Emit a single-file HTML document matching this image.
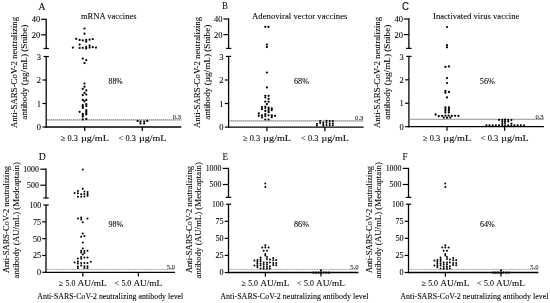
<!DOCTYPE html>
<html lang="en"><head><meta charset="utf-8"><title>Neutralizing antibody figure</title>
<style>
html,body{margin:0;padding:0;background:#fff;}
svg{display:block;font-family:"Liberation Serif", serif;}
</style></head>
<body>
<svg width="550" height="303" viewBox="0 0 550 303" font-family='"Liberation Serif", serif' fill="#000" stroke="#000" stroke-width="0.08">
<rect width="550" height="303" fill="#fff" stroke="none"/>
<line x1="46.20" y1="18.66" x2="46.20" y2="48.50" stroke="#000" stroke-width="1.28"/>
<line x1="43.50" y1="48.50" x2="48.90" y2="48.50" stroke="#000" stroke-width="1.2"/>
<line x1="46.20" y1="56.50" x2="46.20" y2="127.64" stroke="#000" stroke-width="1.28"/>
<line x1="43.50" y1="56.50" x2="48.90" y2="56.50" stroke="#000" stroke-width="1.2"/>
<line x1="45.56" y1="127.00" x2="181.30" y2="127.00" stroke="#000" stroke-width="1.28"/>
<line x1="41.10" y1="19.30" x2="46.20" y2="19.30" stroke="#000" stroke-width="1.2"/>
<line x1="41.10" y1="34.80" x2="46.20" y2="34.80" stroke="#000" stroke-width="1.2"/>
<line x1="42.40" y1="80.00" x2="46.20" y2="80.00" stroke="#000" stroke-width="1.2"/>
<line x1="42.40" y1="103.50" x2="46.20" y2="103.50" stroke="#000" stroke-width="1.2"/>
<line x1="42.40" y1="127.00" x2="46.20" y2="127.00" stroke="#000" stroke-width="1.2"/>
<line x1="84.70" y1="127.00" x2="84.70" y2="131.10" stroke="#000" stroke-width="1.25"/>
<line x1="142.30" y1="127.00" x2="142.30" y2="131.10" stroke="#000" stroke-width="1.25"/>
<line x1="46.90" y1="119.80" x2="181.30" y2="119.80" stroke="#d2d2d2" stroke-width="1.15"/>
<line x1="46.90" y1="119.80" x2="181.30" y2="119.80" stroke="#838383" stroke-width="1.15" stroke-dasharray="1 1"/>
<text x="40.20" y="22.40" font-size="8.5" text-anchor="end" textLength="8.50" lengthAdjust="spacingAndGlyphs">40</text>
<text x="40.20" y="37.90" font-size="8.5" text-anchor="end" textLength="8.50" lengthAdjust="spacingAndGlyphs">20</text>
<text x="41.10" y="59.60" font-size="8.5" text-anchor="end" textLength="4.25" lengthAdjust="spacingAndGlyphs">3</text>
<text x="41.10" y="83.10" font-size="8.5" text-anchor="end" textLength="4.25" lengthAdjust="spacingAndGlyphs">2</text>
<text x="41.10" y="106.60" font-size="8.5" text-anchor="end" textLength="4.25" lengthAdjust="spacingAndGlyphs">1</text>
<text x="41.10" y="130.10" font-size="8.5" text-anchor="end" textLength="4.25" lengthAdjust="spacingAndGlyphs">0</text>
<text x="16.60" y="128.10" font-size="9.0" textLength="111.30" lengthAdjust="spacingAndGlyphs" transform="rotate(-90 16.60 128.10)">Anti-SARS-CoV-2 neutralizing</text>
<text x="26.60" y="119.80" font-size="9.0" textLength="95.10" lengthAdjust="spacingAndGlyphs" transform="rotate(-90 26.60 119.80)">antibody (µg/mL) (Snibe)</text>
<text y="141.00" font-size="8.6"><tspan x="61.00" textLength="4.50" lengthAdjust="spacingAndGlyphs">≥</tspan> <tspan x="67.50" textLength="10.40" lengthAdjust="spacingAndGlyphs">0.3</tspan> <tspan x="81.00" textLength="27.90" lengthAdjust="spacingAndGlyphs">µg/mL</tspan></text>
<text y="141.00" font-size="8.6"><tspan x="118.40" textLength="4.70" lengthAdjust="spacingAndGlyphs">&lt;</tspan> <tspan x="125.50" textLength="10.40" lengthAdjust="spacingAndGlyphs">0.3</tspan> <tspan x="138.90" textLength="27.50" lengthAdjust="spacingAndGlyphs">µg/mL</tspan></text>
<text x="181.10" y="119.30" font-size="6.9" text-anchor="end" textLength="8.30" lengthAdjust="spacingAndGlyphs" fill="#222">0.3</text>
<text x="80.90" y="18.80" font-size="8.7" textLength="55.70" lengthAdjust="spacingAndGlyphs">mRNA vaccines</text>
<text x="108.60" y="83.60" font-size="8.2" textLength="14.10" lengthAdjust="spacingAndGlyphs">88%</text>
<text x="38.40" y="9.65" font-size="9.8" textLength="6.90" lengthAdjust="spacingAndGlyphs">A</text>
<path d="M83.38 28.50a1.12 1.12 0 1 0 2.24 0a1.12 1.12 0 1 0 -2.24 0zM83.38 33.70a1.12 1.12 0 1 0 2.24 0a1.12 1.12 0 1 0 -2.24 0zM75.08 38.80a1.12 1.12 0 1 0 2.24 0a1.12 1.12 0 1 0 -2.24 0zM78.48 39.90a1.12 1.12 0 1 0 2.24 0a1.12 1.12 0 1 0 -2.24 0zM81.68 40.40a1.12 1.12 0 1 0 2.24 0a1.12 1.12 0 1 0 -2.24 0zM85.08 39.90a1.12 1.12 0 1 0 2.24 0a1.12 1.12 0 1 0 -2.24 0zM85.08 41.70a1.12 1.12 0 1 0 2.24 0a1.12 1.12 0 1 0 -2.24 0zM88.48 39.70a1.12 1.12 0 1 0 2.24 0a1.12 1.12 0 1 0 -2.24 0zM91.68 39.00a1.12 1.12 0 1 0 2.24 0a1.12 1.12 0 1 0 -2.24 0zM78.58 44.60a1.12 1.12 0 1 0 2.24 0a1.12 1.12 0 1 0 -2.24 0zM71.78 47.60a1.12 1.12 0 1 0 2.24 0a1.12 1.12 0 1 0 -2.24 0zM78.58 48.00a1.12 1.12 0 1 0 2.24 0a1.12 1.12 0 1 0 -2.24 0zM81.68 47.80a1.12 1.12 0 1 0 2.24 0a1.12 1.12 0 1 0 -2.24 0zM85.08 46.90a1.12 1.12 0 1 0 2.24 0a1.12 1.12 0 1 0 -2.24 0zM85.08 48.50a1.12 1.12 0 1 0 2.24 0a1.12 1.12 0 1 0 -2.24 0zM88.48 45.50a1.12 1.12 0 1 0 2.24 0a1.12 1.12 0 1 0 -2.24 0zM88.48 47.60a1.12 1.12 0 1 0 2.24 0a1.12 1.12 0 1 0 -2.24 0zM91.68 47.10a1.12 1.12 0 1 0 2.24 0a1.12 1.12 0 1 0 -2.24 0zM94.88 47.60a1.12 1.12 0 1 0 2.24 0a1.12 1.12 0 1 0 -2.24 0zM81.68 58.60a1.12 1.12 0 1 0 2.24 0a1.12 1.12 0 1 0 -2.24 0zM85.08 60.20a1.12 1.12 0 1 0 2.24 0a1.12 1.12 0 1 0 -2.24 0zM83.38 63.10a1.12 1.12 0 1 0 2.24 0a1.12 1.12 0 1 0 -2.24 0zM83.38 83.50a1.12 1.12 0 1 0 2.24 0a1.12 1.12 0 1 0 -2.24 0zM83.38 86.70a1.12 1.12 0 1 0 2.24 0a1.12 1.12 0 1 0 -2.24 0zM81.68 88.80a1.12 1.12 0 1 0 2.24 0a1.12 1.12 0 1 0 -2.24 0zM85.18 90.40a1.12 1.12 0 1 0 2.24 0a1.12 1.12 0 1 0 -2.24 0zM83.38 92.90a1.12 1.12 0 1 0 2.24 0a1.12 1.12 0 1 0 -2.24 0zM85.18 94.60a1.12 1.12 0 1 0 2.24 0a1.12 1.12 0 1 0 -2.24 0zM81.68 95.20a1.12 1.12 0 1 0 2.24 0a1.12 1.12 0 1 0 -2.24 0zM81.68 99.90a1.12 1.12 0 1 0 2.24 0a1.12 1.12 0 1 0 -2.24 0zM85.18 99.90a1.12 1.12 0 1 0 2.24 0a1.12 1.12 0 1 0 -2.24 0zM83.38 101.40a1.12 1.12 0 1 0 2.24 0a1.12 1.12 0 1 0 -2.24 0zM85.18 104.20a1.12 1.12 0 1 0 2.24 0a1.12 1.12 0 1 0 -2.24 0zM81.68 105.10a1.12 1.12 0 1 0 2.24 0a1.12 1.12 0 1 0 -2.24 0zM81.68 106.40a1.12 1.12 0 1 0 2.24 0a1.12 1.12 0 1 0 -2.24 0zM85.18 106.10a1.12 1.12 0 1 0 2.24 0a1.12 1.12 0 1 0 -2.24 0zM81.68 107.90a1.12 1.12 0 1 0 2.24 0a1.12 1.12 0 1 0 -2.24 0zM85.18 110.20a1.12 1.12 0 1 0 2.24 0a1.12 1.12 0 1 0 -2.24 0zM85.18 111.60a1.12 1.12 0 1 0 2.24 0a1.12 1.12 0 1 0 -2.24 0zM85.18 112.90a1.12 1.12 0 1 0 2.24 0a1.12 1.12 0 1 0 -2.24 0zM85.18 114.30a1.12 1.12 0 1 0 2.24 0a1.12 1.12 0 1 0 -2.24 0zM78.48 111.80a1.12 1.12 0 1 0 2.24 0a1.12 1.12 0 1 0 -2.24 0zM81.68 113.90a1.12 1.12 0 1 0 2.24 0a1.12 1.12 0 1 0 -2.24 0zM81.68 115.20a1.12 1.12 0 1 0 2.24 0a1.12 1.12 0 1 0 -2.24 0zM81.68 116.60a1.12 1.12 0 1 0 2.24 0a1.12 1.12 0 1 0 -2.24 0zM81.68 119.40a1.12 1.12 0 1 0 2.24 0a1.12 1.12 0 1 0 -2.24 0zM85.18 118.90a1.12 1.12 0 1 0 2.24 0a1.12 1.12 0 1 0 -2.24 0z" fill="#000" stroke="none"/>
<path d="M136.48 120.90a1.12 1.12 0 1 0 2.24 0a1.12 1.12 0 1 0 -2.24 0zM139.38 121.50a1.12 1.12 0 1 0 2.24 0a1.12 1.12 0 1 0 -2.24 0zM139.38 123.50a1.12 1.12 0 1 0 2.24 0a1.12 1.12 0 1 0 -2.24 0zM143.08 121.50a1.12 1.12 0 1 0 2.24 0a1.12 1.12 0 1 0 -2.24 0zM143.08 123.50a1.12 1.12 0 1 0 2.24 0a1.12 1.12 0 1 0 -2.24 0zM146.18 120.90a1.12 1.12 0 1 0 2.24 0a1.12 1.12 0 1 0 -2.24 0z" fill="#000" stroke="none"/>
<line x1="228.60" y1="18.36" x2="228.60" y2="48.40" stroke="#000" stroke-width="1.28"/>
<line x1="225.90" y1="48.40" x2="231.30" y2="48.40" stroke="#000" stroke-width="1.2"/>
<line x1="228.60" y1="56.40" x2="228.60" y2="127.74" stroke="#000" stroke-width="1.28"/>
<line x1="225.90" y1="56.40" x2="231.30" y2="56.40" stroke="#000" stroke-width="1.2"/>
<line x1="227.96" y1="127.10" x2="363.60" y2="127.10" stroke="#000" stroke-width="1.28"/>
<line x1="223.50" y1="19.00" x2="228.60" y2="19.00" stroke="#000" stroke-width="1.2"/>
<line x1="223.50" y1="34.60" x2="228.60" y2="34.60" stroke="#000" stroke-width="1.2"/>
<line x1="224.80" y1="79.97" x2="228.60" y2="79.97" stroke="#000" stroke-width="1.2"/>
<line x1="224.80" y1="103.53" x2="228.60" y2="103.53" stroke="#000" stroke-width="1.2"/>
<line x1="224.80" y1="127.10" x2="228.60" y2="127.10" stroke="#000" stroke-width="1.2"/>
<line x1="266.90" y1="127.10" x2="266.90" y2="131.20" stroke="#000" stroke-width="1.25"/>
<line x1="324.90" y1="127.10" x2="324.90" y2="131.20" stroke="#000" stroke-width="1.25"/>
<line x1="229.30" y1="120.80" x2="363.60" y2="120.80" stroke="#d2d2d2" stroke-width="1.15"/>
<line x1="229.30" y1="120.80" x2="363.60" y2="120.80" stroke="#838383" stroke-width="1.15" stroke-dasharray="1 1"/>
<text x="222.60" y="22.10" font-size="8.5" text-anchor="end" textLength="8.50" lengthAdjust="spacingAndGlyphs">40</text>
<text x="222.60" y="37.70" font-size="8.5" text-anchor="end" textLength="8.50" lengthAdjust="spacingAndGlyphs">20</text>
<text x="223.50" y="59.50" font-size="8.5" text-anchor="end" textLength="4.25" lengthAdjust="spacingAndGlyphs">3</text>
<text x="223.50" y="83.07" font-size="8.5" text-anchor="end" textLength="4.25" lengthAdjust="spacingAndGlyphs">2</text>
<text x="223.50" y="106.63" font-size="8.5" text-anchor="end" textLength="4.25" lengthAdjust="spacingAndGlyphs">1</text>
<text x="223.50" y="130.20" font-size="8.5" text-anchor="end" textLength="4.25" lengthAdjust="spacingAndGlyphs">0</text>
<text x="199.60" y="128.10" font-size="9.0" textLength="111.30" lengthAdjust="spacingAndGlyphs" transform="rotate(-90 199.60 128.10)">Anti-SARS-CoV-2 neutralizing</text>
<text x="209.60" y="119.80" font-size="9.0" textLength="95.10" lengthAdjust="spacingAndGlyphs" transform="rotate(-90 209.60 119.80)">antibody (µg/mL) (Snibe)</text>
<text y="141.10" font-size="8.6"><tspan x="243.20" textLength="4.50" lengthAdjust="spacingAndGlyphs">≥</tspan> <tspan x="249.70" textLength="10.40" lengthAdjust="spacingAndGlyphs">0.3</tspan> <tspan x="263.20" textLength="27.90" lengthAdjust="spacingAndGlyphs">µg/mL</tspan></text>
<text y="141.10" font-size="8.6"><tspan x="301.00" textLength="4.70" lengthAdjust="spacingAndGlyphs">&lt;</tspan> <tspan x="308.10" textLength="10.40" lengthAdjust="spacingAndGlyphs">0.3</tspan> <tspan x="321.50" textLength="27.50" lengthAdjust="spacingAndGlyphs">µg/mL</tspan></text>
<text x="363.40" y="120.30" font-size="6.9" text-anchor="end" textLength="8.30" lengthAdjust="spacingAndGlyphs" fill="#222">0.3</text>
<text x="252.00" y="18.80" font-size="8.7" textLength="95.40" lengthAdjust="spacingAndGlyphs">Adenoviral vector vaccines</text>
<text x="294.00" y="83.60" font-size="8.2" textLength="15.00" lengthAdjust="spacingAndGlyphs">68%</text>
<text x="222.20" y="9.20" font-size="9.8" textLength="5.60" lengthAdjust="spacingAndGlyphs">B</text>
<path d="M264.18 26.80a1.12 1.12 0 1 0 2.24 0a1.12 1.12 0 1 0 -2.24 0zM267.38 26.80a1.12 1.12 0 1 0 2.24 0a1.12 1.12 0 1 0 -2.24 0zM265.78 44.60a1.12 1.12 0 1 0 2.24 0a1.12 1.12 0 1 0 -2.24 0zM265.78 47.10a1.12 1.12 0 1 0 2.24 0a1.12 1.12 0 1 0 -2.24 0zM265.78 72.50a1.12 1.12 0 1 0 2.24 0a1.12 1.12 0 1 0 -2.24 0zM265.78 87.40a1.12 1.12 0 1 0 2.24 0a1.12 1.12 0 1 0 -2.24 0zM264.18 95.80a1.12 1.12 0 1 0 2.24 0a1.12 1.12 0 1 0 -2.24 0zM264.18 97.40a1.12 1.12 0 1 0 2.24 0a1.12 1.12 0 1 0 -2.24 0zM267.48 95.80a1.12 1.12 0 1 0 2.24 0a1.12 1.12 0 1 0 -2.24 0zM267.48 98.80a1.12 1.12 0 1 0 2.24 0a1.12 1.12 0 1 0 -2.24 0zM264.18 101.70a1.12 1.12 0 1 0 2.24 0a1.12 1.12 0 1 0 -2.24 0zM267.48 101.70a1.12 1.12 0 1 0 2.24 0a1.12 1.12 0 1 0 -2.24 0zM265.78 104.10a1.12 1.12 0 1 0 2.24 0a1.12 1.12 0 1 0 -2.24 0zM264.18 106.50a1.12 1.12 0 1 0 2.24 0a1.12 1.12 0 1 0 -2.24 0zM260.88 107.00a1.12 1.12 0 1 0 2.24 0a1.12 1.12 0 1 0 -2.24 0zM260.88 109.20a1.12 1.12 0 1 0 2.24 0a1.12 1.12 0 1 0 -2.24 0zM267.48 107.70a1.12 1.12 0 1 0 2.24 0a1.12 1.12 0 1 0 -2.24 0zM267.48 109.30a1.12 1.12 0 1 0 2.24 0a1.12 1.12 0 1 0 -2.24 0zM267.48 110.90a1.12 1.12 0 1 0 2.24 0a1.12 1.12 0 1 0 -2.24 0zM267.48 112.20a1.12 1.12 0 1 0 2.24 0a1.12 1.12 0 1 0 -2.24 0zM270.68 108.30a1.12 1.12 0 1 0 2.24 0a1.12 1.12 0 1 0 -2.24 0zM270.68 110.10a1.12 1.12 0 1 0 2.24 0a1.12 1.12 0 1 0 -2.24 0zM264.18 108.00a1.12 1.12 0 1 0 2.24 0a1.12 1.12 0 1 0 -2.24 0zM264.18 110.90a1.12 1.12 0 1 0 2.24 0a1.12 1.12 0 1 0 -2.24 0zM257.68 113.40a1.12 1.12 0 1 0 2.24 0a1.12 1.12 0 1 0 -2.24 0zM257.68 115.80a1.12 1.12 0 1 0 2.24 0a1.12 1.12 0 1 0 -2.24 0zM260.88 115.30a1.12 1.12 0 1 0 2.24 0a1.12 1.12 0 1 0 -2.24 0zM260.88 117.40a1.12 1.12 0 1 0 2.24 0a1.12 1.12 0 1 0 -2.24 0zM264.18 114.20a1.12 1.12 0 1 0 2.24 0a1.12 1.12 0 1 0 -2.24 0zM264.18 116.10a1.12 1.12 0 1 0 2.24 0a1.12 1.12 0 1 0 -2.24 0zM267.48 115.30a1.12 1.12 0 1 0 2.24 0a1.12 1.12 0 1 0 -2.24 0zM270.68 115.30a1.12 1.12 0 1 0 2.24 0a1.12 1.12 0 1 0 -2.24 0zM270.68 117.20a1.12 1.12 0 1 0 2.24 0a1.12 1.12 0 1 0 -2.24 0zM273.98 115.80a1.12 1.12 0 1 0 2.24 0a1.12 1.12 0 1 0 -2.24 0zM264.18 119.50a1.12 1.12 0 1 0 2.24 0a1.12 1.12 0 1 0 -2.24 0zM267.48 119.50a1.12 1.12 0 1 0 2.24 0a1.12 1.12 0 1 0 -2.24 0z" fill="#000" stroke="none"/>
<path d="M315.90 123.70a1.0 1.0 0 1 0 2.0 0a1.0 1.0 0 1 0 -2.0 0zM315.90 125.40a1.0 1.0 0 1 0 2.0 0a1.0 1.0 0 1 0 -2.0 0zM319.10 121.10a1.0 1.0 0 1 0 2.0 0a1.0 1.0 0 1 0 -2.0 0zM319.10 123.00a1.0 1.0 0 1 0 2.0 0a1.0 1.0 0 1 0 -2.0 0zM322.30 122.40a1.0 1.0 0 1 0 2.0 0a1.0 1.0 0 1 0 -2.0 0zM322.30 124.30a1.0 1.0 0 1 0 2.0 0a1.0 1.0 0 1 0 -2.0 0zM322.30 125.80a1.0 1.0 0 1 0 2.0 0a1.0 1.0 0 1 0 -2.0 0zM325.50 120.80a1.0 1.0 0 1 0 2.0 0a1.0 1.0 0 1 0 -2.0 0zM325.50 122.80a1.0 1.0 0 1 0 2.0 0a1.0 1.0 0 1 0 -2.0 0zM325.50 124.90a1.0 1.0 0 1 0 2.0 0a1.0 1.0 0 1 0 -2.0 0zM328.70 121.10a1.0 1.0 0 1 0 2.0 0a1.0 1.0 0 1 0 -2.0 0zM328.70 123.30a1.0 1.0 0 1 0 2.0 0a1.0 1.0 0 1 0 -2.0 0zM328.70 125.30a1.0 1.0 0 1 0 2.0 0a1.0 1.0 0 1 0 -2.0 0zM331.90 121.10a1.0 1.0 0 1 0 2.0 0a1.0 1.0 0 1 0 -2.0 0zM331.90 123.30a1.0 1.0 0 1 0 2.0 0a1.0 1.0 0 1 0 -2.0 0zM331.90 125.30a1.0 1.0 0 1 0 2.0 0a1.0 1.0 0 1 0 -2.0 0z" fill="#000" stroke="none"/>
<line x1="408.90" y1="18.36" x2="408.90" y2="48.40" stroke="#000" stroke-width="1.28"/>
<line x1="406.20" y1="48.40" x2="411.60" y2="48.40" stroke="#000" stroke-width="1.2"/>
<line x1="408.90" y1="56.40" x2="408.90" y2="127.34" stroke="#000" stroke-width="1.28"/>
<line x1="406.20" y1="56.40" x2="411.60" y2="56.40" stroke="#000" stroke-width="1.2"/>
<line x1="408.26" y1="126.70" x2="543.90" y2="126.70" stroke="#000" stroke-width="1.28"/>
<line x1="403.80" y1="19.00" x2="408.90" y2="19.00" stroke="#000" stroke-width="1.2"/>
<line x1="403.80" y1="34.60" x2="408.90" y2="34.60" stroke="#000" stroke-width="1.2"/>
<line x1="405.10" y1="79.83" x2="408.90" y2="79.83" stroke="#000" stroke-width="1.2"/>
<line x1="405.10" y1="103.27" x2="408.90" y2="103.27" stroke="#000" stroke-width="1.2"/>
<line x1="405.10" y1="126.70" x2="408.90" y2="126.70" stroke="#000" stroke-width="1.2"/>
<line x1="447.00" y1="126.70" x2="447.00" y2="130.80" stroke="#000" stroke-width="1.25"/>
<line x1="504.60" y1="126.70" x2="504.60" y2="130.80" stroke="#000" stroke-width="1.25"/>
<line x1="409.60" y1="119.30" x2="543.90" y2="119.30" stroke="#d2d2d2" stroke-width="1.15"/>
<line x1="409.60" y1="119.30" x2="543.90" y2="119.30" stroke="#838383" stroke-width="1.15" stroke-dasharray="1 1"/>
<text x="402.90" y="22.10" font-size="8.5" text-anchor="end" textLength="8.50" lengthAdjust="spacingAndGlyphs">40</text>
<text x="402.90" y="37.70" font-size="8.5" text-anchor="end" textLength="8.50" lengthAdjust="spacingAndGlyphs">20</text>
<text x="403.80" y="59.50" font-size="8.5" text-anchor="end" textLength="4.25" lengthAdjust="spacingAndGlyphs">3</text>
<text x="403.80" y="82.93" font-size="8.5" text-anchor="end" textLength="4.25" lengthAdjust="spacingAndGlyphs">2</text>
<text x="403.80" y="106.37" font-size="8.5" text-anchor="end" textLength="4.25" lengthAdjust="spacingAndGlyphs">1</text>
<text x="403.80" y="129.80" font-size="8.5" text-anchor="end" textLength="4.25" lengthAdjust="spacingAndGlyphs">0</text>
<text x="379.70" y="128.10" font-size="9.0" textLength="111.30" lengthAdjust="spacingAndGlyphs" transform="rotate(-90 379.70 128.10)">Anti-SARS-CoV-2 neutralizing</text>
<text x="389.70" y="119.80" font-size="9.0" textLength="95.10" lengthAdjust="spacingAndGlyphs" transform="rotate(-90 389.70 119.80)">antibody (µg/mL) (Snibe)</text>
<text y="140.70" font-size="8.6"><tspan x="423.30" textLength="4.50" lengthAdjust="spacingAndGlyphs">≥</tspan> <tspan x="429.80" textLength="10.40" lengthAdjust="spacingAndGlyphs">0.3</tspan> <tspan x="443.30" textLength="27.90" lengthAdjust="spacingAndGlyphs">µg/mL</tspan></text>
<text y="140.70" font-size="8.6"><tspan x="480.70" textLength="4.70" lengthAdjust="spacingAndGlyphs">&lt;</tspan> <tspan x="487.80" textLength="10.40" lengthAdjust="spacingAndGlyphs">0.3</tspan> <tspan x="501.20" textLength="27.50" lengthAdjust="spacingAndGlyphs">µg/mL</tspan></text>
<text x="543.70" y="118.80" font-size="6.9" text-anchor="end" textLength="8.30" lengthAdjust="spacingAndGlyphs" fill="#222">0.3</text>
<text x="433.00" y="18.80" font-size="8.7" textLength="86.40" lengthAdjust="spacingAndGlyphs">Inactivated virus vaccine</text>
<text x="479.80" y="83.60" font-size="8.2" textLength="15.00" lengthAdjust="spacingAndGlyphs">56%</text>
<text x="402.00" y="10.30" font-size="10.4" textLength="7.00" lengthAdjust="spacingAndGlyphs" font-family='"Liberation Sans", sans-serif'>C</text>
<path d="M445.88 27.00a1.12 1.12 0 1 0 2.24 0a1.12 1.12 0 1 0 -2.24 0zM445.88 45.10a1.12 1.12 0 1 0 2.24 0a1.12 1.12 0 1 0 -2.24 0zM445.88 47.30a1.12 1.12 0 1 0 2.24 0a1.12 1.12 0 1 0 -2.24 0zM444.28 66.90a1.12 1.12 0 1 0 2.24 0a1.12 1.12 0 1 0 -2.24 0zM447.78 66.40a1.12 1.12 0 1 0 2.24 0a1.12 1.12 0 1 0 -2.24 0zM445.88 78.10a1.12 1.12 0 1 0 2.24 0a1.12 1.12 0 1 0 -2.24 0zM445.88 83.00a1.12 1.12 0 1 0 2.24 0a1.12 1.12 0 1 0 -2.24 0zM444.28 90.90a1.12 1.12 0 1 0 2.24 0a1.12 1.12 0 1 0 -2.24 0zM444.28 92.70a1.12 1.12 0 1 0 2.24 0a1.12 1.12 0 1 0 -2.24 0zM447.78 91.90a1.12 1.12 0 1 0 2.24 0a1.12 1.12 0 1 0 -2.24 0zM445.88 97.40a1.12 1.12 0 1 0 2.24 0a1.12 1.12 0 1 0 -2.24 0zM444.28 107.40a1.12 1.12 0 1 0 2.24 0a1.12 1.12 0 1 0 -2.24 0zM444.28 109.30a1.12 1.12 0 1 0 2.24 0a1.12 1.12 0 1 0 -2.24 0zM444.28 110.90a1.12 1.12 0 1 0 2.24 0a1.12 1.12 0 1 0 -2.24 0zM444.28 112.50a1.12 1.12 0 1 0 2.24 0a1.12 1.12 0 1 0 -2.24 0zM447.78 107.30a1.12 1.12 0 1 0 2.24 0a1.12 1.12 0 1 0 -2.24 0zM447.78 109.20a1.12 1.12 0 1 0 2.24 0a1.12 1.12 0 1 0 -2.24 0zM447.78 110.90a1.12 1.12 0 1 0 2.24 0a1.12 1.12 0 1 0 -2.24 0zM447.78 112.50a1.12 1.12 0 1 0 2.24 0a1.12 1.12 0 1 0 -2.24 0zM434.48 114.50a1.12 1.12 0 1 0 2.24 0a1.12 1.12 0 1 0 -2.24 0zM437.68 116.10a1.12 1.12 0 1 0 2.24 0a1.12 1.12 0 1 0 -2.24 0zM440.98 115.80a1.12 1.12 0 1 0 2.24 0a1.12 1.12 0 1 0 -2.24 0zM444.28 115.60a1.12 1.12 0 1 0 2.24 0a1.12 1.12 0 1 0 -2.24 0zM447.48 115.60a1.12 1.12 0 1 0 2.24 0a1.12 1.12 0 1 0 -2.24 0zM450.68 115.80a1.12 1.12 0 1 0 2.24 0a1.12 1.12 0 1 0 -2.24 0zM453.98 115.80a1.12 1.12 0 1 0 2.24 0a1.12 1.12 0 1 0 -2.24 0zM457.28 115.80a1.12 1.12 0 1 0 2.24 0a1.12 1.12 0 1 0 -2.24 0zM442.68 117.60a1.12 1.12 0 1 0 2.24 0a1.12 1.12 0 1 0 -2.24 0zM445.88 117.70a1.12 1.12 0 1 0 2.24 0a1.12 1.12 0 1 0 -2.24 0zM449.18 117.60a1.12 1.12 0 1 0 2.24 0a1.12 1.12 0 1 0 -2.24 0z" fill="#000" stroke="none"/>
<path d="M485.35 125.20a1.05 1.05 0 1 0 2.1 0a1.05 1.05 0 1 0 -2.1 0zM488.45 125.20a1.05 1.05 0 1 0 2.1 0a1.05 1.05 0 1 0 -2.1 0zM491.65 125.20a1.05 1.05 0 1 0 2.1 0a1.05 1.05 0 1 0 -2.1 0zM494.85 125.20a1.05 1.05 0 1 0 2.1 0a1.05 1.05 0 1 0 -2.1 0zM498.05 125.20a1.05 1.05 0 1 0 2.1 0a1.05 1.05 0 1 0 -2.1 0zM501.25 125.20a1.05 1.05 0 1 0 2.1 0a1.05 1.05 0 1 0 -2.1 0zM503.95 125.20a1.05 1.05 0 1 0 2.1 0a1.05 1.05 0 1 0 -2.1 0zM507.15 125.20a1.05 1.05 0 1 0 2.1 0a1.05 1.05 0 1 0 -2.1 0zM510.35 125.20a1.05 1.05 0 1 0 2.1 0a1.05 1.05 0 1 0 -2.1 0zM513.45 125.20a1.05 1.05 0 1 0 2.1 0a1.05 1.05 0 1 0 -2.1 0zM516.65 125.20a1.05 1.05 0 1 0 2.1 0a1.05 1.05 0 1 0 -2.1 0zM519.85 125.20a1.05 1.05 0 1 0 2.1 0a1.05 1.05 0 1 0 -2.1 0zM523.05 125.20a1.05 1.05 0 1 0 2.1 0a1.05 1.05 0 1 0 -2.1 0zM498.05 119.90a1.05 1.05 0 1 0 2.1 0a1.05 1.05 0 1 0 -2.1 0zM501.25 119.90a1.05 1.05 0 1 0 2.1 0a1.05 1.05 0 1 0 -2.1 0zM501.25 121.50a1.05 1.05 0 1 0 2.1 0a1.05 1.05 0 1 0 -2.1 0zM501.25 123.50a1.05 1.05 0 1 0 2.1 0a1.05 1.05 0 1 0 -2.1 0zM503.95 119.60a1.05 1.05 0 1 0 2.1 0a1.05 1.05 0 1 0 -2.1 0zM503.95 121.30a1.05 1.05 0 1 0 2.1 0a1.05 1.05 0 1 0 -2.1 0zM503.95 123.00a1.05 1.05 0 1 0 2.1 0a1.05 1.05 0 1 0 -2.1 0zM507.15 119.90a1.05 1.05 0 1 0 2.1 0a1.05 1.05 0 1 0 -2.1 0zM507.15 121.50a1.05 1.05 0 1 0 2.1 0a1.05 1.05 0 1 0 -2.1 0zM510.35 120.10a1.05 1.05 0 1 0 2.1 0a1.05 1.05 0 1 0 -2.1 0zM510.35 123.50a1.05 1.05 0 1 0 2.1 0a1.05 1.05 0 1 0 -2.1 0z" fill="#000" stroke="none"/>
<line x1="46.00" y1="168.60" x2="46.00" y2="198.00" stroke="#000" stroke-width="1.28"/>
<line x1="43.30" y1="198.00" x2="48.70" y2="198.00" stroke="#000" stroke-width="1.2"/>
<line x1="46.00" y1="205.00" x2="46.00" y2="272.94" stroke="#000" stroke-width="1.28"/>
<line x1="43.30" y1="205.00" x2="48.70" y2="205.00" stroke="#000" stroke-width="1.2"/>
<line x1="45.36" y1="272.30" x2="175.00" y2="272.30" stroke="#000" stroke-width="1.28"/>
<line x1="40.30" y1="169.20" x2="46.00" y2="169.20" stroke="#000" stroke-width="1.2"/>
<line x1="40.30" y1="185.20" x2="46.00" y2="185.20" stroke="#000" stroke-width="1.2"/>
<line x1="42.20" y1="221.82" x2="46.00" y2="221.82" stroke="#000" stroke-width="1.2"/>
<line x1="42.20" y1="238.65" x2="46.00" y2="238.65" stroke="#000" stroke-width="1.2"/>
<line x1="42.20" y1="255.48" x2="46.00" y2="255.48" stroke="#000" stroke-width="1.2"/>
<line x1="42.20" y1="272.30" x2="46.00" y2="272.30" stroke="#000" stroke-width="1.2"/>
<line x1="82.80" y1="272.30" x2="82.80" y2="276.40" stroke="#000" stroke-width="1.25"/>
<line x1="138.40" y1="272.30" x2="138.40" y2="276.40" stroke="#000" stroke-width="1.25"/>
<line x1="46.70" y1="269.45" x2="175.00" y2="269.45" stroke="#666" stroke-width="0.6" stroke-dasharray="1.3 0.5"/>
<text x="38.80" y="172.10" font-size="8.4" text-anchor="end" textLength="15.60" lengthAdjust="spacingAndGlyphs">1000</text>
<text x="38.80" y="188.10" font-size="8.4" text-anchor="end" textLength="11.70" lengthAdjust="spacingAndGlyphs">500</text>
<text x="41.10" y="207.90" font-size="8.4" text-anchor="end" textLength="11.70" lengthAdjust="spacingAndGlyphs">100</text>
<text x="41.10" y="224.72" font-size="8.4" text-anchor="end" textLength="8.20" lengthAdjust="spacingAndGlyphs">75</text>
<text x="41.10" y="241.55" font-size="8.4" text-anchor="end" textLength="8.20" lengthAdjust="spacingAndGlyphs">50</text>
<text x="41.10" y="258.38" font-size="8.4" text-anchor="end" textLength="8.20" lengthAdjust="spacingAndGlyphs">25</text>
<text x="41.10" y="275.20" font-size="8.4" text-anchor="end" textLength="4.10" lengthAdjust="spacingAndGlyphs">0</text>
<text x="9.50" y="273.10" font-size="8.8" textLength="107.00" lengthAdjust="spacingAndGlyphs" transform="rotate(-90 9.50 273.10)">Anti-SARS-CoV-2 neutralizing</text>
<text x="18.70" y="278.40" font-size="8.8" textLength="116.40" lengthAdjust="spacingAndGlyphs" transform="rotate(-90 18.70 278.40)">antibody (AU/mL) (Medcaptain)</text>
<text y="285.70" font-size="8.3"><tspan x="59.10" textLength="4.40" lengthAdjust="spacingAndGlyphs">≥</tspan> <tspan x="65.60" textLength="9.80" lengthAdjust="spacingAndGlyphs">5.0</tspan> <tspan x="77.60" textLength="29.20" lengthAdjust="spacingAndGlyphs">AU/mL</tspan></text>
<text y="285.70" font-size="8.3"><tspan x="114.40" textLength="4.60" lengthAdjust="spacingAndGlyphs">&lt;</tspan> <tspan x="121.40" textLength="9.80" lengthAdjust="spacingAndGlyphs">5.0</tspan> <tspan x="133.40" textLength="28.80" lengthAdjust="spacingAndGlyphs">AU/mL</tspan></text>
<text x="175.10" y="269.25" font-size="6.9" text-anchor="end" textLength="8.30" lengthAdjust="spacingAndGlyphs" fill="#222">5.0</text>
<text x="108.60" y="226.80" font-size="8.2" textLength="14.60" lengthAdjust="spacingAndGlyphs">98%</text>
<text x="37.30" y="298.90" font-size="8.6" textLength="146.00" lengthAdjust="spacingAndGlyphs">Anti-SARS-CoV-2 neutralizing antibody level</text>
<text x="38.80" y="159.50" font-size="9.8" textLength="7.00" lengthAdjust="spacingAndGlyphs">D</text>
<path d="M81.78 169.60a1.02 1.02 0 1 0 2.04 0a1.02 1.02 0 1 0 -2.04 0zM81.78 188.70a1.02 1.02 0 1 0 2.04 0a1.02 1.02 0 1 0 -2.04 0zM76.88 191.00a1.02 1.02 0 1 0 2.04 0a1.02 1.02 0 1 0 -2.04 0zM76.88 193.20a1.02 1.02 0 1 0 2.04 0a1.02 1.02 0 1 0 -2.04 0zM83.38 191.50a1.02 1.02 0 1 0 2.04 0a1.02 1.02 0 1 0 -2.04 0zM73.58 193.00a1.02 1.02 0 1 0 2.04 0a1.02 1.02 0 1 0 -2.04 0zM80.18 194.30a1.02 1.02 0 1 0 2.04 0a1.02 1.02 0 1 0 -2.04 0zM83.38 193.90a1.02 1.02 0 1 0 2.04 0a1.02 1.02 0 1 0 -2.04 0zM86.58 192.10a1.02 1.02 0 1 0 2.04 0a1.02 1.02 0 1 0 -2.04 0zM86.58 193.90a1.02 1.02 0 1 0 2.04 0a1.02 1.02 0 1 0 -2.04 0zM86.58 195.70a1.02 1.02 0 1 0 2.04 0a1.02 1.02 0 1 0 -2.04 0zM76.88 196.80a1.02 1.02 0 1 0 2.04 0a1.02 1.02 0 1 0 -2.04 0zM80.18 196.80a1.02 1.02 0 1 0 2.04 0a1.02 1.02 0 1 0 -2.04 0zM83.38 196.50a1.02 1.02 0 1 0 2.04 0a1.02 1.02 0 1 0 -2.04 0zM80.18 217.50a1.02 1.02 0 1 0 2.04 0a1.02 1.02 0 1 0 -2.04 0zM80.18 219.60a1.02 1.02 0 1 0 2.04 0a1.02 1.02 0 1 0 -2.04 0zM76.88 218.50a1.02 1.02 0 1 0 2.04 0a1.02 1.02 0 1 0 -2.04 0zM86.48 218.50a1.02 1.02 0 1 0 2.04 0a1.02 1.02 0 1 0 -2.04 0zM81.78 222.20a1.02 1.02 0 1 0 2.04 0a1.02 1.02 0 1 0 -2.04 0zM81.78 233.40a1.02 1.02 0 1 0 2.04 0a1.02 1.02 0 1 0 -2.04 0zM80.18 236.70a1.02 1.02 0 1 0 2.04 0a1.02 1.02 0 1 0 -2.04 0zM83.38 236.00a1.02 1.02 0 1 0 2.04 0a1.02 1.02 0 1 0 -2.04 0zM81.78 242.40a1.02 1.02 0 1 0 2.04 0a1.02 1.02 0 1 0 -2.04 0zM81.78 248.50a1.02 1.02 0 1 0 2.04 0a1.02 1.02 0 1 0 -2.04 0zM80.18 250.70a1.02 1.02 0 1 0 2.04 0a1.02 1.02 0 1 0 -2.04 0zM80.18 252.50a1.02 1.02 0 1 0 2.04 0a1.02 1.02 0 1 0 -2.04 0zM83.38 250.90a1.02 1.02 0 1 0 2.04 0a1.02 1.02 0 1 0 -2.04 0zM83.38 252.90a1.02 1.02 0 1 0 2.04 0a1.02 1.02 0 1 0 -2.04 0zM86.48 250.70a1.02 1.02 0 1 0 2.04 0a1.02 1.02 0 1 0 -2.04 0zM81.78 254.40a1.02 1.02 0 1 0 2.04 0a1.02 1.02 0 1 0 -2.04 0zM80.18 256.90a1.02 1.02 0 1 0 2.04 0a1.02 1.02 0 1 0 -2.04 0zM80.18 258.80a1.02 1.02 0 1 0 2.04 0a1.02 1.02 0 1 0 -2.04 0zM76.88 258.50a1.02 1.02 0 1 0 2.04 0a1.02 1.02 0 1 0 -2.04 0zM83.38 257.40a1.02 1.02 0 1 0 2.04 0a1.02 1.02 0 1 0 -2.04 0zM86.48 257.40a1.02 1.02 0 1 0 2.04 0a1.02 1.02 0 1 0 -2.04 0zM73.58 262.40a1.02 1.02 0 1 0 2.04 0a1.02 1.02 0 1 0 -2.04 0zM76.88 261.60a1.02 1.02 0 1 0 2.04 0a1.02 1.02 0 1 0 -2.04 0zM76.88 263.40a1.02 1.02 0 1 0 2.04 0a1.02 1.02 0 1 0 -2.04 0zM80.18 262.90a1.02 1.02 0 1 0 2.04 0a1.02 1.02 0 1 0 -2.04 0zM83.38 262.90a1.02 1.02 0 1 0 2.04 0a1.02 1.02 0 1 0 -2.04 0zM86.48 262.90a1.02 1.02 0 1 0 2.04 0a1.02 1.02 0 1 0 -2.04 0zM89.78 261.80a1.02 1.02 0 1 0 2.04 0a1.02 1.02 0 1 0 -2.04 0zM76.88 266.40a1.02 1.02 0 1 0 2.04 0a1.02 1.02 0 1 0 -2.04 0zM76.88 268.10a1.02 1.02 0 1 0 2.04 0a1.02 1.02 0 1 0 -2.04 0zM80.18 265.60a1.02 1.02 0 1 0 2.04 0a1.02 1.02 0 1 0 -2.04 0zM83.38 266.20a1.02 1.02 0 1 0 2.04 0a1.02 1.02 0 1 0 -2.04 0zM83.38 268.10a1.02 1.02 0 1 0 2.04 0a1.02 1.02 0 1 0 -2.04 0zM86.48 266.20a1.02 1.02 0 1 0 2.04 0a1.02 1.02 0 1 0 -2.04 0zM86.48 268.10a1.02 1.02 0 1 0 2.04 0a1.02 1.02 0 1 0 -2.04 0z" fill="#000" stroke="none"/>
<line x1="228.50" y1="167.80" x2="228.50" y2="197.40" stroke="#000" stroke-width="1.28"/>
<line x1="225.80" y1="197.40" x2="231.20" y2="197.40" stroke="#000" stroke-width="1.2"/>
<line x1="228.50" y1="204.20" x2="228.50" y2="273.14" stroke="#000" stroke-width="1.28"/>
<line x1="225.80" y1="204.20" x2="231.20" y2="204.20" stroke="#000" stroke-width="1.2"/>
<line x1="227.86" y1="272.50" x2="358.40" y2="272.50" stroke="#000" stroke-width="1.28"/>
<line x1="222.80" y1="168.40" x2="228.50" y2="168.40" stroke="#000" stroke-width="1.2"/>
<line x1="222.80" y1="184.50" x2="228.50" y2="184.50" stroke="#000" stroke-width="1.2"/>
<line x1="224.70" y1="221.27" x2="228.50" y2="221.27" stroke="#000" stroke-width="1.2"/>
<line x1="224.70" y1="238.35" x2="228.50" y2="238.35" stroke="#000" stroke-width="1.2"/>
<line x1="224.70" y1="255.43" x2="228.50" y2="255.43" stroke="#000" stroke-width="1.2"/>
<line x1="224.70" y1="272.50" x2="228.50" y2="272.50" stroke="#000" stroke-width="1.2"/>
<line x1="265.40" y1="272.50" x2="265.40" y2="276.60" stroke="#000" stroke-width="1.25"/>
<line x1="321.00" y1="272.50" x2="321.00" y2="276.60" stroke="#000" stroke-width="1.25"/>
<line x1="229.20" y1="269.45" x2="358.40" y2="269.45" stroke="#666" stroke-width="0.6" stroke-dasharray="1.3 0.5"/>
<text x="221.30" y="171.30" font-size="8.4" text-anchor="end" textLength="15.60" lengthAdjust="spacingAndGlyphs">1000</text>
<text x="221.30" y="187.40" font-size="8.4" text-anchor="end" textLength="11.70" lengthAdjust="spacingAndGlyphs">500</text>
<text x="223.60" y="207.10" font-size="8.4" text-anchor="end" textLength="11.70" lengthAdjust="spacingAndGlyphs">100</text>
<text x="223.60" y="224.17" font-size="8.4" text-anchor="end" textLength="8.20" lengthAdjust="spacingAndGlyphs">75</text>
<text x="223.60" y="241.25" font-size="8.4" text-anchor="end" textLength="8.20" lengthAdjust="spacingAndGlyphs">50</text>
<text x="223.60" y="258.32" font-size="8.4" text-anchor="end" textLength="8.20" lengthAdjust="spacingAndGlyphs">25</text>
<text x="223.60" y="275.40" font-size="8.4" text-anchor="end" textLength="4.10" lengthAdjust="spacingAndGlyphs">0</text>
<text x="192.10" y="273.10" font-size="8.8" textLength="107.00" lengthAdjust="spacingAndGlyphs" transform="rotate(-90 192.10 273.10)">Anti-SARS-CoV-2 neutralizing</text>
<text x="201.30" y="278.40" font-size="8.8" textLength="116.40" lengthAdjust="spacingAndGlyphs" transform="rotate(-90 201.30 278.40)">antibody (AU/mL) (Medcaptain)</text>
<text y="285.90" font-size="8.3"><tspan x="241.70" textLength="4.40" lengthAdjust="spacingAndGlyphs">≥</tspan> <tspan x="248.20" textLength="9.80" lengthAdjust="spacingAndGlyphs">5.0</tspan> <tspan x="260.20" textLength="29.20" lengthAdjust="spacingAndGlyphs">AU/mL</tspan></text>
<text y="285.90" font-size="8.3"><tspan x="297.00" textLength="4.60" lengthAdjust="spacingAndGlyphs">&lt;</tspan> <tspan x="304.00" textLength="9.80" lengthAdjust="spacingAndGlyphs">5.0</tspan> <tspan x="316.00" textLength="28.80" lengthAdjust="spacingAndGlyphs">AU/mL</tspan></text>
<text x="358.50" y="269.25" font-size="6.9" text-anchor="end" textLength="8.30" lengthAdjust="spacingAndGlyphs" fill="#222">5.0</text>
<text x="294.00" y="226.80" font-size="8.2" textLength="15.00" lengthAdjust="spacingAndGlyphs">86%</text>
<text x="220.30" y="298.90" font-size="8.6" textLength="148.20" lengthAdjust="spacingAndGlyphs">Anti-SARS-CoV-2 neutralizing antibody level</text>
<path d="M264.32 183.50a0.98 0.98 0 1 0 1.96 0a0.98 0.98 0 1 0 -1.96 0zM264.32 187.00a0.98 0.98 0 1 0 1.96 0a0.98 0.98 0 1 0 -1.96 0zM264.32 245.20a0.98 0.98 0 1 0 1.96 0a0.98 0.98 0 1 0 -1.96 0zM261.32 247.60a0.98 0.98 0 1 0 1.96 0a0.98 0.98 0 1 0 -1.96 0zM264.32 247.60a0.98 0.98 0 1 0 1.96 0a0.98 0.98 0 1 0 -1.96 0zM267.62 247.60a0.98 0.98 0 1 0 1.96 0a0.98 0.98 0 1 0 -1.96 0zM262.72 250.70a0.98 0.98 0 1 0 1.96 0a0.98 0.98 0 1 0 -1.96 0zM266.02 250.70a0.98 0.98 0 1 0 1.96 0a0.98 0.98 0 1 0 -1.96 0zM264.32 254.00a0.98 0.98 0 1 0 1.96 0a0.98 0.98 0 1 0 -1.96 0zM264.32 255.50a0.98 0.98 0 1 0 1.96 0a0.98 0.98 0 1 0 -1.96 0zM266.02 256.90a0.98 0.98 0 1 0 1.96 0a0.98 0.98 0 1 0 -1.96 0zM259.62 257.40a0.98 0.98 0 1 0 1.96 0a0.98 0.98 0 1 0 -1.96 0zM259.62 259.40a0.98 0.98 0 1 0 1.96 0a0.98 0.98 0 1 0 -1.96 0zM272.22 258.00a0.98 0.98 0 1 0 1.96 0a0.98 0.98 0 1 0 -1.96 0zM253.42 260.50a0.98 0.98 0 1 0 1.96 0a0.98 0.98 0 1 0 -1.96 0zM256.42 260.00a0.98 0.98 0 1 0 1.96 0a0.98 0.98 0 1 0 -1.96 0zM256.42 261.80a0.98 0.98 0 1 0 1.96 0a0.98 0.98 0 1 0 -1.96 0zM256.42 263.40a0.98 0.98 0 1 0 1.96 0a0.98 0.98 0 1 0 -1.96 0zM256.42 265.60a0.98 0.98 0 1 0 1.96 0a0.98 0.98 0 1 0 -1.96 0zM256.42 267.30a0.98 0.98 0 1 0 1.96 0a0.98 0.98 0 1 0 -1.96 0zM259.62 261.30a0.98 0.98 0 1 0 1.96 0a0.98 0.98 0 1 0 -1.96 0zM259.62 263.40a0.98 0.98 0 1 0 1.96 0a0.98 0.98 0 1 0 -1.96 0zM259.62 265.60a0.98 0.98 0 1 0 1.96 0a0.98 0.98 0 1 0 -1.96 0zM259.62 268.60a0.98 0.98 0 1 0 1.96 0a0.98 0.98 0 1 0 -1.96 0zM266.02 259.10a0.98 0.98 0 1 0 1.96 0a0.98 0.98 0 1 0 -1.96 0zM268.92 259.60a0.98 0.98 0 1 0 1.96 0a0.98 0.98 0 1 0 -1.96 0zM272.22 260.20a0.98 0.98 0 1 0 1.96 0a0.98 0.98 0 1 0 -1.96 0zM275.22 260.00a0.98 0.98 0 1 0 1.96 0a0.98 0.98 0 1 0 -1.96 0zM262.72 262.40a0.98 0.98 0 1 0 1.96 0a0.98 0.98 0 1 0 -1.96 0zM262.72 264.50a0.98 0.98 0 1 0 1.96 0a0.98 0.98 0 1 0 -1.96 0zM262.72 266.70a0.98 0.98 0 1 0 1.96 0a0.98 0.98 0 1 0 -1.96 0zM262.72 268.70a0.98 0.98 0 1 0 1.96 0a0.98 0.98 0 1 0 -1.96 0zM266.02 262.40a0.98 0.98 0 1 0 1.96 0a0.98 0.98 0 1 0 -1.96 0zM266.02 264.50a0.98 0.98 0 1 0 1.96 0a0.98 0.98 0 1 0 -1.96 0zM266.02 266.70a0.98 0.98 0 1 0 1.96 0a0.98 0.98 0 1 0 -1.96 0zM266.02 268.70a0.98 0.98 0 1 0 1.96 0a0.98 0.98 0 1 0 -1.96 0zM268.92 262.40a0.98 0.98 0 1 0 1.96 0a0.98 0.98 0 1 0 -1.96 0zM268.92 266.20a0.98 0.98 0 1 0 1.96 0a0.98 0.98 0 1 0 -1.96 0zM268.92 268.40a0.98 0.98 0 1 0 1.96 0a0.98 0.98 0 1 0 -1.96 0zM272.22 262.90a0.98 0.98 0 1 0 1.96 0a0.98 0.98 0 1 0 -1.96 0zM272.22 265.10a0.98 0.98 0 1 0 1.96 0a0.98 0.98 0 1 0 -1.96 0zM275.22 262.90a0.98 0.98 0 1 0 1.96 0a0.98 0.98 0 1 0 -1.96 0zM275.22 265.30a0.98 0.98 0 1 0 1.96 0a0.98 0.98 0 1 0 -1.96 0zM253.42 265.60a0.98 0.98 0 1 0 1.96 0a0.98 0.98 0 1 0 -1.96 0z" fill="#000" stroke="none"/>
<path d="M312.22 272.65a1.08 1.08 0 1 0 2.16 0a1.08 1.08 0 1 0 -2.16 0zM314.82 272.65a1.08 1.08 0 1 0 2.16 0a1.08 1.08 0 1 0 -2.16 0zM317.32 272.65a1.08 1.08 0 1 0 2.16 0a1.08 1.08 0 1 0 -2.16 0zM319.92 272.65a1.08 1.08 0 1 0 2.16 0a1.08 1.08 0 1 0 -2.16 0zM322.32 272.65a1.08 1.08 0 1 0 2.16 0a1.08 1.08 0 1 0 -2.16 0zM325.12 272.65a1.08 1.08 0 1 0 2.16 0a1.08 1.08 0 1 0 -2.16 0zM327.72 272.65a1.08 1.08 0 1 0 2.16 0a1.08 1.08 0 1 0 -2.16 0zM319.92 270.30a1.08 1.08 0 1 0 2.16 0a1.08 1.08 0 1 0 -2.16 0z" fill="#000" stroke="none"/>
<text x="222.50" y="160.00" font-size="9.8" textLength="5.40" lengthAdjust="spacingAndGlyphs">E</text>
<line x1="408.50" y1="167.80" x2="408.50" y2="197.40" stroke="#000" stroke-width="1.28"/>
<line x1="405.80" y1="197.40" x2="411.20" y2="197.40" stroke="#000" stroke-width="1.2"/>
<line x1="408.50" y1="204.20" x2="408.50" y2="273.14" stroke="#000" stroke-width="1.28"/>
<line x1="405.80" y1="204.20" x2="411.20" y2="204.20" stroke="#000" stroke-width="1.2"/>
<line x1="407.86" y1="272.50" x2="538.40" y2="272.50" stroke="#000" stroke-width="1.28"/>
<line x1="402.80" y1="168.40" x2="408.50" y2="168.40" stroke="#000" stroke-width="1.2"/>
<line x1="402.80" y1="184.50" x2="408.50" y2="184.50" stroke="#000" stroke-width="1.2"/>
<line x1="404.70" y1="221.27" x2="408.50" y2="221.27" stroke="#000" stroke-width="1.2"/>
<line x1="404.70" y1="238.35" x2="408.50" y2="238.35" stroke="#000" stroke-width="1.2"/>
<line x1="404.70" y1="255.43" x2="408.50" y2="255.43" stroke="#000" stroke-width="1.2"/>
<line x1="404.70" y1="272.50" x2="408.50" y2="272.50" stroke="#000" stroke-width="1.2"/>
<line x1="445.40" y1="272.50" x2="445.40" y2="276.60" stroke="#000" stroke-width="1.25"/>
<line x1="501.00" y1="272.50" x2="501.00" y2="276.60" stroke="#000" stroke-width="1.25"/>
<line x1="409.20" y1="269.45" x2="538.40" y2="269.45" stroke="#666" stroke-width="0.6" stroke-dasharray="1.3 0.5"/>
<text x="401.30" y="171.30" font-size="8.4" text-anchor="end" textLength="15.60" lengthAdjust="spacingAndGlyphs">1000</text>
<text x="401.30" y="187.40" font-size="8.4" text-anchor="end" textLength="11.70" lengthAdjust="spacingAndGlyphs">500</text>
<text x="403.60" y="207.10" font-size="8.4" text-anchor="end" textLength="11.70" lengthAdjust="spacingAndGlyphs">100</text>
<text x="403.60" y="224.17" font-size="8.4" text-anchor="end" textLength="8.20" lengthAdjust="spacingAndGlyphs">75</text>
<text x="403.60" y="241.25" font-size="8.4" text-anchor="end" textLength="8.20" lengthAdjust="spacingAndGlyphs">50</text>
<text x="403.60" y="258.32" font-size="8.4" text-anchor="end" textLength="8.20" lengthAdjust="spacingAndGlyphs">25</text>
<text x="403.60" y="275.40" font-size="8.4" text-anchor="end" textLength="4.10" lengthAdjust="spacingAndGlyphs">0</text>
<text x="372.10" y="273.10" font-size="8.8" textLength="107.00" lengthAdjust="spacingAndGlyphs" transform="rotate(-90 372.10 273.10)">Anti-SARS-CoV-2 neutralizing</text>
<text x="381.30" y="278.40" font-size="8.8" textLength="116.40" lengthAdjust="spacingAndGlyphs" transform="rotate(-90 381.30 278.40)">antibody (AU/mL) (Medcaptain)</text>
<text y="285.90" font-size="8.3"><tspan x="421.70" textLength="4.40" lengthAdjust="spacingAndGlyphs">≥</tspan> <tspan x="428.20" textLength="9.80" lengthAdjust="spacingAndGlyphs">5.0</tspan> <tspan x="440.20" textLength="29.20" lengthAdjust="spacingAndGlyphs">AU/mL</tspan></text>
<text y="285.90" font-size="8.3"><tspan x="477.00" textLength="4.60" lengthAdjust="spacingAndGlyphs">&lt;</tspan> <tspan x="484.00" textLength="9.80" lengthAdjust="spacingAndGlyphs">5.0</tspan> <tspan x="496.00" textLength="28.80" lengthAdjust="spacingAndGlyphs">AU/mL</tspan></text>
<text x="538.50" y="269.25" font-size="6.9" text-anchor="end" textLength="8.30" lengthAdjust="spacingAndGlyphs" fill="#222">5.0</text>
<text x="479.90" y="226.80" font-size="8.2" textLength="14.80" lengthAdjust="spacingAndGlyphs">64%</text>
<text x="400.30" y="298.90" font-size="8.6" textLength="148.20" lengthAdjust="spacingAndGlyphs">Anti-SARS-CoV-2 neutralizing antibody level</text>
<path d="M444.32 183.50a0.98 0.98 0 1 0 1.96 0a0.98 0.98 0 1 0 -1.96 0zM444.32 187.00a0.98 0.98 0 1 0 1.96 0a0.98 0.98 0 1 0 -1.96 0zM444.32 245.20a0.98 0.98 0 1 0 1.96 0a0.98 0.98 0 1 0 -1.96 0zM441.32 247.60a0.98 0.98 0 1 0 1.96 0a0.98 0.98 0 1 0 -1.96 0zM444.32 247.60a0.98 0.98 0 1 0 1.96 0a0.98 0.98 0 1 0 -1.96 0zM447.62 247.60a0.98 0.98 0 1 0 1.96 0a0.98 0.98 0 1 0 -1.96 0zM442.72 250.70a0.98 0.98 0 1 0 1.96 0a0.98 0.98 0 1 0 -1.96 0zM446.02 250.70a0.98 0.98 0 1 0 1.96 0a0.98 0.98 0 1 0 -1.96 0zM444.32 254.00a0.98 0.98 0 1 0 1.96 0a0.98 0.98 0 1 0 -1.96 0zM444.32 255.50a0.98 0.98 0 1 0 1.96 0a0.98 0.98 0 1 0 -1.96 0zM446.02 256.90a0.98 0.98 0 1 0 1.96 0a0.98 0.98 0 1 0 -1.96 0zM439.62 257.40a0.98 0.98 0 1 0 1.96 0a0.98 0.98 0 1 0 -1.96 0zM439.62 259.40a0.98 0.98 0 1 0 1.96 0a0.98 0.98 0 1 0 -1.96 0zM452.22 258.00a0.98 0.98 0 1 0 1.96 0a0.98 0.98 0 1 0 -1.96 0zM433.42 260.50a0.98 0.98 0 1 0 1.96 0a0.98 0.98 0 1 0 -1.96 0zM436.42 260.00a0.98 0.98 0 1 0 1.96 0a0.98 0.98 0 1 0 -1.96 0zM436.42 261.80a0.98 0.98 0 1 0 1.96 0a0.98 0.98 0 1 0 -1.96 0zM436.42 263.40a0.98 0.98 0 1 0 1.96 0a0.98 0.98 0 1 0 -1.96 0zM436.42 265.60a0.98 0.98 0 1 0 1.96 0a0.98 0.98 0 1 0 -1.96 0zM436.42 267.30a0.98 0.98 0 1 0 1.96 0a0.98 0.98 0 1 0 -1.96 0zM439.62 261.30a0.98 0.98 0 1 0 1.96 0a0.98 0.98 0 1 0 -1.96 0zM439.62 263.40a0.98 0.98 0 1 0 1.96 0a0.98 0.98 0 1 0 -1.96 0zM439.62 265.60a0.98 0.98 0 1 0 1.96 0a0.98 0.98 0 1 0 -1.96 0zM439.62 268.60a0.98 0.98 0 1 0 1.96 0a0.98 0.98 0 1 0 -1.96 0zM446.02 259.10a0.98 0.98 0 1 0 1.96 0a0.98 0.98 0 1 0 -1.96 0zM448.92 259.60a0.98 0.98 0 1 0 1.96 0a0.98 0.98 0 1 0 -1.96 0zM452.22 260.20a0.98 0.98 0 1 0 1.96 0a0.98 0.98 0 1 0 -1.96 0zM455.22 260.00a0.98 0.98 0 1 0 1.96 0a0.98 0.98 0 1 0 -1.96 0zM442.72 262.40a0.98 0.98 0 1 0 1.96 0a0.98 0.98 0 1 0 -1.96 0zM442.72 264.50a0.98 0.98 0 1 0 1.96 0a0.98 0.98 0 1 0 -1.96 0zM442.72 266.70a0.98 0.98 0 1 0 1.96 0a0.98 0.98 0 1 0 -1.96 0zM442.72 268.70a0.98 0.98 0 1 0 1.96 0a0.98 0.98 0 1 0 -1.96 0zM446.02 262.40a0.98 0.98 0 1 0 1.96 0a0.98 0.98 0 1 0 -1.96 0zM446.02 264.50a0.98 0.98 0 1 0 1.96 0a0.98 0.98 0 1 0 -1.96 0zM446.02 266.70a0.98 0.98 0 1 0 1.96 0a0.98 0.98 0 1 0 -1.96 0zM446.02 268.70a0.98 0.98 0 1 0 1.96 0a0.98 0.98 0 1 0 -1.96 0zM448.92 262.40a0.98 0.98 0 1 0 1.96 0a0.98 0.98 0 1 0 -1.96 0zM448.92 266.20a0.98 0.98 0 1 0 1.96 0a0.98 0.98 0 1 0 -1.96 0zM448.92 268.40a0.98 0.98 0 1 0 1.96 0a0.98 0.98 0 1 0 -1.96 0zM452.22 262.90a0.98 0.98 0 1 0 1.96 0a0.98 0.98 0 1 0 -1.96 0zM452.22 265.10a0.98 0.98 0 1 0 1.96 0a0.98 0.98 0 1 0 -1.96 0zM455.22 262.90a0.98 0.98 0 1 0 1.96 0a0.98 0.98 0 1 0 -1.96 0zM455.22 265.30a0.98 0.98 0 1 0 1.96 0a0.98 0.98 0 1 0 -1.96 0zM433.42 265.60a0.98 0.98 0 1 0 1.96 0a0.98 0.98 0 1 0 -1.96 0z" fill="#000" stroke="none"/>
<path d="M492.22 272.65a1.08 1.08 0 1 0 2.16 0a1.08 1.08 0 1 0 -2.16 0zM494.82 272.65a1.08 1.08 0 1 0 2.16 0a1.08 1.08 0 1 0 -2.16 0zM497.32 272.65a1.08 1.08 0 1 0 2.16 0a1.08 1.08 0 1 0 -2.16 0zM499.92 272.65a1.08 1.08 0 1 0 2.16 0a1.08 1.08 0 1 0 -2.16 0zM502.32 272.65a1.08 1.08 0 1 0 2.16 0a1.08 1.08 0 1 0 -2.16 0zM505.12 272.65a1.08 1.08 0 1 0 2.16 0a1.08 1.08 0 1 0 -2.16 0zM507.72 272.65a1.08 1.08 0 1 0 2.16 0a1.08 1.08 0 1 0 -2.16 0zM499.92 270.30a1.08 1.08 0 1 0 2.16 0a1.08 1.08 0 1 0 -2.16 0z" fill="#000" stroke="none"/>
<text x="402.50" y="160.00" font-size="9.8" textLength="5.00" lengthAdjust="spacingAndGlyphs">F</text>
</svg>
</body></html>
